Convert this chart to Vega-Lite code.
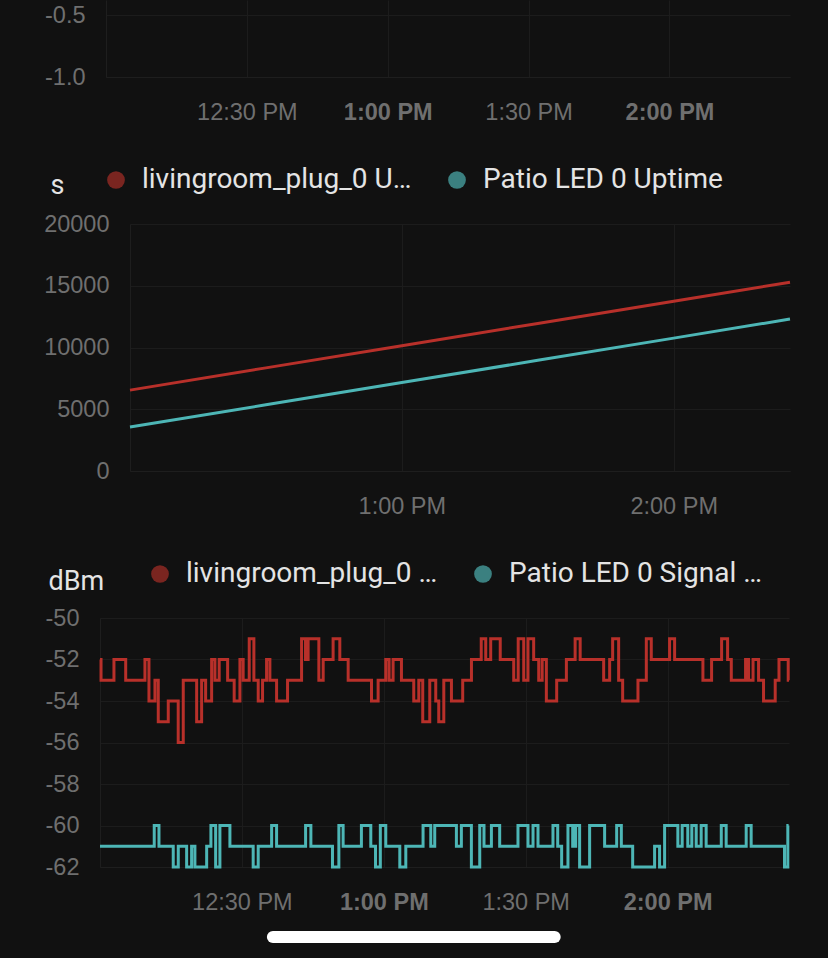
{
  "$schema": "https://vega.github.io/schema/vega-lite/v6.json",
  "background": "#111111",
  "padding": 0,
  "spacing": 42,
  "config": {
    "locale": {"number": {"decimal": ".", "thousands": ",", "grouping": [3], "currency": ["$", ""], "minus": "-"}},
    "view": {"stroke": null},
    "axis": {
      "labelFont": "Liberation Sans",
      "labelFontSize": 23.5,
      "labelColor": "#6f6f6f",
      "gridColor": "#1c1c1c",
      "domainColor": "#1e1e1e",
      "ticks": false,
      "titleFont": "Roboto",
      "titleFontSize": 27,
      "titleFontWeight": "normal",
      "titleColor": "#e4e4e4"
    },
    "axisX": {"labelPadding": 23, "labelAngle": 0, "labelFlush": false, "labelOverlap": false},
    "axisY": {"labelPadding": 21},
    "legend": {
      "labelFont": "Roboto",
      "labelFontSize": 28,
      "labelColor": "#e4e4e4",
      "padding": 0
    }
  },
  "datasets": {
    "uptime": [
      {"time": "2024-01-01T12:00:00", "series": "livingroom_plug_0 Uptime", "seconds": 6550},
      {"time": "2024-01-01T12:30:00", "series": "livingroom_plug_0 Uptime", "seconds": 8350},
      {"time": "2024-01-01T13:00:00", "series": "livingroom_plug_0 Uptime", "seconds": 10150},
      {"time": "2024-01-01T13:30:00", "series": "livingroom_plug_0 Uptime", "seconds": 11950},
      {"time": "2024-01-01T14:00:00", "series": "livingroom_plug_0 Uptime", "seconds": 13750},
      {"time": "2024-01-01T14:25:40", "series": "livingroom_plug_0 Uptime", "seconds": 15290},
      {"time": "2024-01-01T12:00:00", "series": "Patio LED 0 Uptime", "seconds": 3560},
      {"time": "2024-01-01T12:30:00", "series": "Patio LED 0 Uptime", "seconds": 5360},
      {"time": "2024-01-01T13:00:00", "series": "Patio LED 0 Uptime", "seconds": 7160},
      {"time": "2024-01-01T13:30:00", "series": "Patio LED 0 Uptime", "seconds": 8960},
      {"time": "2024-01-01T14:00:00", "series": "Patio LED 0 Uptime", "seconds": 10760},
      {"time": "2024-01-01T14:25:40", "series": "Patio LED 0 Uptime", "seconds": 12300}
    ],
    "signal": [
      {"time": "2024-01-01T12:00:00", "series": "livingroom_plug_0 Signal strength", "dbm": -52},
      {"time": "2024-01-01T12:00:13", "series": "livingroom_plug_0 Signal strength", "dbm": -53},
      {"time": "2024-01-01T12:02:57", "series": "livingroom_plug_0 Signal strength", "dbm": -52},
      {"time": "2024-01-01T12:05:26", "series": "livingroom_plug_0 Signal strength", "dbm": -53},
      {"time": "2024-01-01T12:09:30", "series": "livingroom_plug_0 Signal strength", "dbm": -52},
      {"time": "2024-01-01T12:10:21", "series": "livingroom_plug_0 Signal strength", "dbm": -54},
      {"time": "2024-01-01T12:11:37", "series": "livingroom_plug_0 Signal strength", "dbm": -53},
      {"time": "2024-01-01T12:12:19", "series": "livingroom_plug_0 Signal strength", "dbm": -55},
      {"time": "2024-01-01T12:14:26", "series": "livingroom_plug_0 Signal strength", "dbm": -54},
      {"time": "2024-01-01T12:16:32", "series": "livingroom_plug_0 Signal strength", "dbm": -56},
      {"time": "2024-01-01T12:17:36", "series": "livingroom_plug_0 Signal strength", "dbm": -53},
      {"time": "2024-01-01T12:20:26", "series": "livingroom_plug_0 Signal strength", "dbm": -55},
      {"time": "2024-01-01T12:21:29", "series": "livingroom_plug_0 Signal strength", "dbm": -53},
      {"time": "2024-01-01T12:22:20", "series": "livingroom_plug_0 Signal strength", "dbm": -54},
      {"time": "2024-01-01T12:23:36", "series": "livingroom_plug_0 Signal strength", "dbm": -52},
      {"time": "2024-01-01T12:24:18", "series": "livingroom_plug_0 Signal strength", "dbm": -53},
      {"time": "2024-01-01T12:25:12", "series": "livingroom_plug_0 Signal strength", "dbm": -52},
      {"time": "2024-01-01T12:26:59", "series": "livingroom_plug_0 Signal strength", "dbm": -53},
      {"time": "2024-01-01T12:28:22", "series": "livingroom_plug_0 Signal strength", "dbm": -54},
      {"time": "2024-01-01T12:29:35", "series": "livingroom_plug_0 Signal strength", "dbm": -52},
      {"time": "2024-01-01T12:30:16", "series": "livingroom_plug_0 Signal strength", "dbm": -53},
      {"time": "2024-01-01T12:31:33", "series": "livingroom_plug_0 Signal strength", "dbm": -51},
      {"time": "2024-01-01T12:32:32", "series": "livingroom_plug_0 Signal strength", "dbm": -53},
      {"time": "2024-01-01T12:33:27", "series": "livingroom_plug_0 Signal strength", "dbm": -54},
      {"time": "2024-01-01T12:34:22", "series": "livingroom_plug_0 Signal strength", "dbm": -53},
      {"time": "2024-01-01T12:35:13", "series": "livingroom_plug_0 Signal strength", "dbm": -52},
      {"time": "2024-01-01T12:35:55", "series": "livingroom_plug_0 Signal strength", "dbm": -53},
      {"time": "2024-01-01T12:37:20", "series": "livingroom_plug_0 Signal strength", "dbm": -54},
      {"time": "2024-01-01T12:39:39", "series": "livingroom_plug_0 Signal strength", "dbm": -53},
      {"time": "2024-01-01T12:42:37", "series": "livingroom_plug_0 Signal strength", "dbm": -51},
      {"time": "2024-01-01T12:43:27", "series": "livingroom_plug_0 Signal strength", "dbm": -52},
      {"time": "2024-01-01T12:44:00", "series": "livingroom_plug_0 Signal strength", "dbm": -51},
      {"time": "2024-01-01T12:46:16", "series": "livingroom_plug_0 Signal strength", "dbm": -53},
      {"time": "2024-01-01T12:47:11", "series": "livingroom_plug_0 Signal strength", "dbm": -52},
      {"time": "2024-01-01T12:49:17", "series": "livingroom_plug_0 Signal strength", "dbm": -51},
      {"time": "2024-01-01T12:50:42", "series": "livingroom_plug_0 Signal strength", "dbm": -52},
      {"time": "2024-01-01T12:52:28", "series": "livingroom_plug_0 Signal strength", "dbm": -53},
      {"time": "2024-01-01T12:57:24", "series": "livingroom_plug_0 Signal strength", "dbm": -54},
      {"time": "2024-01-01T12:58:48", "series": "livingroom_plug_0 Signal strength", "dbm": -53},
      {"time": "2024-01-01T13:00:25", "series": "livingroom_plug_0 Signal strength", "dbm": -52},
      {"time": "2024-01-01T13:01:07", "series": "livingroom_plug_0 Signal strength", "dbm": -53},
      {"time": "2024-01-01T13:01:58", "series": "livingroom_plug_0 Signal strength", "dbm": -52},
      {"time": "2024-01-01T13:03:44", "series": "livingroom_plug_0 Signal strength", "dbm": -53},
      {"time": "2024-01-01T13:06:20", "series": "livingroom_plug_0 Signal strength", "dbm": -54},
      {"time": "2024-01-01T13:07:24", "series": "livingroom_plug_0 Signal strength", "dbm": -53},
      {"time": "2024-01-01T13:08:14", "series": "livingroom_plug_0 Signal strength", "dbm": -55},
      {"time": "2024-01-01T13:09:43", "series": "livingroom_plug_0 Signal strength", "dbm": -53},
      {"time": "2024-01-01T13:10:59", "series": "livingroom_plug_0 Signal strength", "dbm": -54},
      {"time": "2024-01-01T13:11:37", "series": "livingroom_plug_0 Signal strength", "dbm": -55},
      {"time": "2024-01-01T13:12:41", "series": "livingroom_plug_0 Signal strength", "dbm": -53},
      {"time": "2024-01-01T13:14:18", "series": "livingroom_plug_0 Signal strength", "dbm": -54},
      {"time": "2024-01-01T13:16:41", "series": "livingroom_plug_0 Signal strength", "dbm": -53},
      {"time": "2024-01-01T13:18:32", "series": "livingroom_plug_0 Signal strength", "dbm": -52},
      {"time": "2024-01-01T13:20:36", "series": "livingroom_plug_0 Signal strength", "dbm": -51},
      {"time": "2024-01-01T13:21:33", "series": "livingroom_plug_0 Signal strength", "dbm": -52},
      {"time": "2024-01-01T13:22:36", "series": "livingroom_plug_0 Signal strength", "dbm": -51},
      {"time": "2024-01-01T13:24:37", "series": "livingroom_plug_0 Signal strength", "dbm": -52},
      {"time": "2024-01-01T13:27:28", "series": "livingroom_plug_0 Signal strength", "dbm": -53},
      {"time": "2024-01-01T13:28:25", "series": "livingroom_plug_0 Signal strength", "dbm": -51},
      {"time": "2024-01-01T13:29:35", "series": "livingroom_plug_0 Signal strength", "dbm": -53},
      {"time": "2024-01-01T13:30:29", "series": "livingroom_plug_0 Signal strength", "dbm": -51},
      {"time": "2024-01-01T13:31:41", "series": "livingroom_plug_0 Signal strength", "dbm": -52},
      {"time": "2024-01-01T13:32:45", "series": "livingroom_plug_0 Signal strength", "dbm": -53},
      {"time": "2024-01-01T13:33:29", "series": "livingroom_plug_0 Signal strength", "dbm": -52},
      {"time": "2024-01-01T13:34:22", "series": "livingroom_plug_0 Signal strength", "dbm": -54},
      {"time": "2024-01-01T13:36:33", "series": "livingroom_plug_0 Signal strength", "dbm": -53},
      {"time": "2024-01-01T13:38:36", "series": "livingroom_plug_0 Signal strength", "dbm": -52},
      {"time": "2024-01-01T13:40:27", "series": "livingroom_plug_0 Signal strength", "dbm": -51},
      {"time": "2024-01-01T13:41:31", "series": "livingroom_plug_0 Signal strength", "dbm": -52},
      {"time": "2024-01-01T13:46:29", "series": "livingroom_plug_0 Signal strength", "dbm": -53},
      {"time": "2024-01-01T13:47:45", "series": "livingroom_plug_0 Signal strength", "dbm": -52},
      {"time": "2024-01-01T13:48:23", "series": "livingroom_plug_0 Signal strength", "dbm": -51},
      {"time": "2024-01-01T13:49:39", "series": "livingroom_plug_0 Signal strength", "dbm": -53},
      {"time": "2024-01-01T13:50:30", "series": "livingroom_plug_0 Signal strength", "dbm": -54},
      {"time": "2024-01-01T13:53:44", "series": "livingroom_plug_0 Signal strength", "dbm": -53},
      {"time": "2024-01-01T13:55:30", "series": "livingroom_plug_0 Signal strength", "dbm": -51},
      {"time": "2024-01-01T13:56:33", "series": "livingroom_plug_0 Signal strength", "dbm": -52},
      {"time": "2024-01-01T14:00:25", "series": "livingroom_plug_0 Signal strength", "dbm": -51},
      {"time": "2024-01-01T14:01:29", "series": "livingroom_plug_0 Signal strength", "dbm": -52},
      {"time": "2024-01-01T14:07:28", "series": "livingroom_plug_0 Signal strength", "dbm": -53},
      {"time": "2024-01-01T14:09:18", "series": "livingroom_plug_0 Signal strength", "dbm": -52},
      {"time": "2024-01-01T14:11:25", "series": "livingroom_plug_0 Signal strength", "dbm": -51},
      {"time": "2024-01-01T14:12:41", "series": "livingroom_plug_0 Signal strength", "dbm": -52},
      {"time": "2024-01-01T14:13:28", "series": "livingroom_plug_0 Signal strength", "dbm": -53},
      {"time": "2024-01-01T14:16:29", "series": "livingroom_plug_0 Signal strength", "dbm": -52},
      {"time": "2024-01-01T14:17:07", "series": "livingroom_plug_0 Signal strength", "dbm": -53},
      {"time": "2024-01-01T14:18:04", "series": "livingroom_plug_0 Signal strength", "dbm": -52},
      {"time": "2024-01-01T14:19:14", "series": "livingroom_plug_0 Signal strength", "dbm": -53},
      {"time": "2024-01-01T14:20:17", "series": "livingroom_plug_0 Signal strength", "dbm": -54},
      {"time": "2024-01-01T14:22:45", "series": "livingroom_plug_0 Signal strength", "dbm": -53},
      {"time": "2024-01-01T14:23:33", "series": "livingroom_plug_0 Signal strength", "dbm": -52},
      {"time": "2024-01-01T14:25:30", "series": "livingroom_plug_0 Signal strength", "dbm": -53},
      {"time": "2024-01-01T14:25:40", "series": "livingroom_plug_0 Signal strength", "dbm": -53},
      {"time": "2024-01-01T12:00:00", "series": "Patio LED 0 Signal strength", "dbm": -61},
      {"time": "2024-01-01T12:11:28", "series": "Patio LED 0 Signal strength", "dbm": -60},
      {"time": "2024-01-01T12:12:28", "series": "Patio LED 0 Signal strength", "dbm": -61},
      {"time": "2024-01-01T12:15:29", "series": "Patio LED 0 Signal strength", "dbm": -62},
      {"time": "2024-01-01T12:16:33", "series": "Patio LED 0 Signal strength", "dbm": -61},
      {"time": "2024-01-01T12:18:19", "series": "Patio LED 0 Signal strength", "dbm": -62},
      {"time": "2024-01-01T12:19:22", "series": "Patio LED 0 Signal strength", "dbm": -61},
      {"time": "2024-01-01T12:20:04", "series": "Patio LED 0 Signal strength", "dbm": -62},
      {"time": "2024-01-01T12:22:33", "series": "Patio LED 0 Signal strength", "dbm": -61},
      {"time": "2024-01-01T12:23:27", "series": "Patio LED 0 Signal strength", "dbm": -60},
      {"time": "2024-01-01T12:24:27", "series": "Patio LED 0 Signal strength", "dbm": -62},
      {"time": "2024-01-01T12:25:21", "series": "Patio LED 0 Signal strength", "dbm": -60},
      {"time": "2024-01-01T12:27:28", "series": "Patio LED 0 Signal strength", "dbm": -61},
      {"time": "2024-01-01T12:32:23", "series": "Patio LED 0 Signal strength", "dbm": -62},
      {"time": "2024-01-01T12:33:27", "series": "Patio LED 0 Signal strength", "dbm": -61},
      {"time": "2024-01-01T12:36:17", "series": "Patio LED 0 Signal strength", "dbm": -60},
      {"time": "2024-01-01T12:37:20", "series": "Patio LED 0 Signal strength", "dbm": -61},
      {"time": "2024-01-01T12:43:28", "series": "Patio LED 0 Signal strength", "dbm": -60},
      {"time": "2024-01-01T12:44:35", "series": "Patio LED 0 Signal strength", "dbm": -61},
      {"time": "2024-01-01T12:49:09", "series": "Patio LED 0 Signal strength", "dbm": -62},
      {"time": "2024-01-01T12:50:30", "series": "Patio LED 0 Signal strength", "dbm": -60},
      {"time": "2024-01-01T12:51:24", "series": "Patio LED 0 Signal strength", "dbm": -61},
      {"time": "2024-01-01T12:55:16", "series": "Patio LED 0 Signal strength", "dbm": -60},
      {"time": "2024-01-01T12:57:15", "series": "Patio LED 0 Signal strength", "dbm": -61},
      {"time": "2024-01-01T12:58:15", "series": "Patio LED 0 Signal strength", "dbm": -62},
      {"time": "2024-01-01T12:59:16", "series": "Patio LED 0 Signal strength", "dbm": -60},
      {"time": "2024-01-01T13:00:25", "series": "Patio LED 0 Signal strength", "dbm": -61},
      {"time": "2024-01-01T13:03:23", "series": "Patio LED 0 Signal strength", "dbm": -62},
      {"time": "2024-01-01T13:04:39", "series": "Patio LED 0 Signal strength", "dbm": -61},
      {"time": "2024-01-01T13:08:18", "series": "Patio LED 0 Signal strength", "dbm": -60},
      {"time": "2024-01-01T13:09:56", "series": "Patio LED 0 Signal strength", "dbm": -61},
      {"time": "2024-01-01T13:10:46", "series": "Patio LED 0 Signal strength", "dbm": -60},
      {"time": "2024-01-01T13:15:21", "series": "Patio LED 0 Signal strength", "dbm": -61},
      {"time": "2024-01-01T13:16:24", "series": "Patio LED 0 Signal strength", "dbm": -60},
      {"time": "2024-01-01T13:18:31", "series": "Patio LED 0 Signal strength", "dbm": -62},
      {"time": "2024-01-01T13:20:17", "series": "Patio LED 0 Signal strength", "dbm": -60},
      {"time": "2024-01-01T13:21:11", "series": "Patio LED 0 Signal strength", "dbm": -61},
      {"time": "2024-01-01T13:22:45", "series": "Patio LED 0 Signal strength", "dbm": -60},
      {"time": "2024-01-01T13:24:30", "series": "Patio LED 0 Signal strength", "dbm": -61},
      {"time": "2024-01-01T13:28:22", "series": "Patio LED 0 Signal strength", "dbm": -60},
      {"time": "2024-01-01T13:30:29", "series": "Patio LED 0 Signal strength", "dbm": -61},
      {"time": "2024-01-01T13:31:33", "series": "Patio LED 0 Signal strength", "dbm": -60},
      {"time": "2024-01-01T13:32:36", "series": "Patio LED 0 Signal strength", "dbm": -61},
      {"time": "2024-01-01T13:35:46", "series": "Patio LED 0 Signal strength", "dbm": -60},
      {"time": "2024-01-01T13:36:46", "series": "Patio LED 0 Signal strength", "dbm": -61},
      {"time": "2024-01-01T13:37:36", "series": "Patio LED 0 Signal strength", "dbm": -62},
      {"time": "2024-01-01T13:38:56", "series": "Patio LED 0 Signal strength", "dbm": -60},
      {"time": "2024-01-01T13:39:56", "series": "Patio LED 0 Signal strength", "dbm": -61},
      {"time": "2024-01-01T13:40:34", "series": "Patio LED 0 Signal strength", "dbm": -60},
      {"time": "2024-01-01T13:41:24", "series": "Patio LED 0 Signal strength", "dbm": -62},
      {"time": "2024-01-01T13:43:31", "series": "Patio LED 0 Signal strength", "dbm": -60},
      {"time": "2024-01-01T13:46:41", "series": "Patio LED 0 Signal strength", "dbm": -61},
      {"time": "2024-01-01T13:49:14", "series": "Patio LED 0 Signal strength", "dbm": -60},
      {"time": "2024-01-01T13:50:13", "series": "Patio LED 0 Signal strength", "dbm": -61},
      {"time": "2024-01-01T13:52:37", "series": "Patio LED 0 Signal strength", "dbm": -62},
      {"time": "2024-01-01T13:57:15", "series": "Patio LED 0 Signal strength", "dbm": -61},
      {"time": "2024-01-01T13:58:18", "series": "Patio LED 0 Signal strength", "dbm": -62},
      {"time": "2024-01-01T13:59:22", "series": "Patio LED 0 Signal strength", "dbm": -60},
      {"time": "2024-01-01T14:02:10", "series": "Patio LED 0 Signal strength", "dbm": -61},
      {"time": "2024-01-01T14:03:05", "series": "Patio LED 0 Signal strength", "dbm": -60},
      {"time": "2024-01-01T14:04:16", "series": "Patio LED 0 Signal strength", "dbm": -61},
      {"time": "2024-01-01T14:05:07", "series": "Patio LED 0 Signal strength", "dbm": -60},
      {"time": "2024-01-01T14:06:03", "series": "Patio LED 0 Signal strength", "dbm": -61},
      {"time": "2024-01-01T14:07:06", "series": "Patio LED 0 Signal strength", "dbm": -60},
      {"time": "2024-01-01T14:08:09", "series": "Patio LED 0 Signal strength", "dbm": -61},
      {"time": "2024-01-01T14:11:21", "series": "Patio LED 0 Signal strength", "dbm": -60},
      {"time": "2024-01-01T14:12:23", "series": "Patio LED 0 Signal strength", "dbm": -61},
      {"time": "2024-01-01T14:16:37", "series": "Patio LED 0 Signal strength", "dbm": -60},
      {"time": "2024-01-01T14:17:40", "series": "Patio LED 0 Signal strength", "dbm": -61},
      {"time": "2024-01-01T14:24:43", "series": "Patio LED 0 Signal strength", "dbm": -62},
      {"time": "2024-01-01T14:25:25", "series": "Patio LED 0 Signal strength", "dbm": -60},
      {"time": "2024-01-01T14:25:35", "series": "Patio LED 0 Signal strength", "dbm": -60}
    ]
  },
  "resolve": {"scale": {"color": "independent"}},
  "vconcat": [
    {
      "spacing": 0,
      "hconcat": [
        {"width": 1, "height": 1, "data": {"values": [{}]}, "mark": {"type": "rect", "opacity": 0}},
        {
          "width": 684,
          "height": 77,
          "data": {"values": []},
          "mark": {"type": "line"},
          "encoding": {
            "x": {
              "field": "time",
              "type": "temporal",
              "scale": {"domain": [
                {"year": 2024, "month": 1, "date": 1, "hours": 12, "minutes": 0},
                {"year": 2024, "month": 1, "date": 1, "hours": 14, "minutes": 25, "seconds": 40}
              ]},
              "axis": {
                "title": null,
                "format": "%-I:%M %p",
                "values": [
                  {"year": 2024, "month": 1, "date": 1, "hours": 12, "minutes": 30},
                  {"year": 2024, "month": 1, "date": 1, "hours": 13, "minutes": 0},
                  {"year": 2024, "month": 1, "date": 1, "hours": 13, "minutes": 30},
                  {"year": 2024, "month": 1, "date": 1, "hours": 14, "minutes": 0}
                ],
                "labelFontWeight": {"condition": {"test": "minutes(datum.value) === 0", "value": "bold"}, "value": "normal"}
              }
            },
            "y": {
              "field": "value",
              "type": "quantitative",
              "scale": {"domain": [-1, -0.379], "nice": false, "zero": false},
              "axis": {"title": null, "values": [-1, -0.5], "format": ".1f", "minExtent": 105, "maxExtent": 105}
            }
          }
        }
      ]
    },
    {
      "spacing": 0,
      "hconcat": [
        {"width": 1, "height": 1, "data": {"values": [{}]}, "mark": {"type": "rect", "opacity": 0}},
        {
          "width": 660,
          "height": 247,
          "data": {"name": "uptime"},
          "mark": {"type": "line", "strokeWidth": 3},
          "encoding": {
            "x": {
              "field": "time",
              "type": "temporal",
              "scale": {"domain": [
                {"year": 2024, "month": 1, "date": 1, "hours": 12, "minutes": 0},
                {"year": 2024, "month": 1, "date": 1, "hours": 14, "minutes": 25, "seconds": 40}
              ]},
              "axis": {
                "title": null,
                "format": "%-I:%M %p",
                "values": [
                  {"year": 2024, "month": 1, "date": 1, "hours": 13, "minutes": 0},
                  {"year": 2024, "month": 1, "date": 1, "hours": 14, "minutes": 0}
                ]
              }
            },
            "y": {
              "field": "seconds",
              "type": "quantitative",
              "scale": {"domain": [0, 20000], "nice": false},
              "axis": {
                "title": "s",
                "titleAngle": 0,
                "titleAlign": "left",
                "titleBaseline": "alphabetic",
                "titleX": -80,
                "titleY": -31,
                "values": [0, 5000, 10000, 15000, 20000],
                "format": "d",
                "minExtent": 129,
                "maxExtent": 129
              }
            },
            "color": {
              "field": "series",
              "type": "nominal",
              "sort": null,
              "scale": {"domain": ["livingroom_plug_0 Uptime", "Patio LED 0 Uptime"], "range": ["#b8302a", "#4db6b6"]},
              "legend": {
                "title": null,
                "orient": "none",
                "direction": "horizontal",
                "legendX": 102,
                "legendY": -58,
                "symbolType": "circle",
                "symbolSize": 314,
                "labelOffset": 12,
                "columnPadding": 31,
                "labelLimit": 276,
                "encode": {
                  "symbols": {
                    "update": {
                      "fill": {"signal": "datum.value === 'Patio LED 0 Uptime' ? '#3b8080' : '#7a2520'"},
                      "fillOpacity": {"value": 1},
                      "stroke": {"value": "transparent"},
                      "strokeWidth": {"value": 0}
                    }
                  }
                }
              }
            }
          }
        }
      ]
    },
    {
      "spacing": 0,
      "hconcat": [
        {"width": 1, "height": 1, "data": {"values": [{}]}, "mark": {"type": "rect", "opacity": 0}},
        {
          "width": 689,
          "height": 249,
          "layer": [
            {
              "data": {"name": "signal"},
              "mark": {"type": "line", "interpolate": "step-after", "strokeWidth": 3, "strokeJoin": "miter"},
              "encoding": {
                "x": {
                  "field": "time",
                  "type": "temporal",
                  "scale": {"domain": [
                    {"year": 2024, "month": 1, "date": 1, "hours": 12, "minutes": 0},
                    {"year": 2024, "month": 1, "date": 1, "hours": 14, "minutes": 25, "seconds": 40}
                  ]},
                  "axis": {
                    "title": null,
                    "format": "%-I:%M %p",
                    "values": [
                      {"year": 2024, "month": 1, "date": 1, "hours": 12, "minutes": 30},
                      {"year": 2024, "month": 1, "date": 1, "hours": 13, "minutes": 0},
                      {"year": 2024, "month": 1, "date": 1, "hours": 13, "minutes": 30},
                      {"year": 2024, "month": 1, "date": 1, "hours": 14, "minutes": 0}
                    ],
                    "labelFontWeight": {"condition": {"test": "minutes(datum.value) === 0", "value": "bold"}, "value": "normal"}
                  }
                },
                "y": {
                  "field": "dbm",
                  "type": "quantitative",
                  "scale": {"domain": [-62, -50], "nice": false, "zero": false},
                  "axis": {
                    "title": "dBm",
                    "titleAngle": 0,
                    "titleAlign": "left",
                    "titleBaseline": "alphabetic",
                    "titleX": -52,
                    "titleY": -29,
                    "values": [-50, -52, -54, -56, -58, -60, -62],
                    "format": "d",
                    "minExtent": 99,
                    "maxExtent": 99
                  }
                },
                "color": {
                  "field": "series",
                  "type": "nominal",
                  "sort": null,
                  "scale": {"domain": ["livingroom_plug_0 Signal strength", "Patio LED 0 Signal strength"], "range": ["#b8302a", "#4db6b6"]},
                  "legend": {
                    "title": null,
                    "orient": "none",
                    "direction": "horizontal",
                    "legendX": 146,
                    "legendY": -58,
                    "symbolType": "circle",
                    "symbolSize": 314,
                    "labelOffset": 12,
                    "columnPadding": 31,
                    "labelLimit": 258,
                    "encode": {
                      "symbols": {
                        "update": {
                          "fill": {"signal": "datum.value === 'Patio LED 0 Signal strength' ? '#3b8080' : '#7a2520'"},
                          "fillOpacity": {"value": 1},
                          "stroke": {"value": "transparent"},
                          "strokeWidth": {"value": 0}
                        }
                      }
                    }
                  }
                }
              }
            },
            {
              "data": {"values": [{}]},
              "mark": {"type": "rule", "strokeWidth": 12, "strokeCap": "round", "color": "#ffffff"},
              "encoding": {
                "x": {"datum": {"year": 2024, "month": 1, "date": 1, "hours": 12, "minutes": 36, "seconds": 33}, "type": "temporal"},
                "x2": {"datum": {"year": 2024, "month": 1, "date": 1, "hours": 13, "minutes": 36, "seconds": 8}},
                "y": {"datum": -65.37, "type": "quantitative"}
              }
            }
          ]
        },
        {"width": 40, "height": 340, "data": {"values": [{}]}, "mark": {"type": "rect", "opacity": 0}}
      ]
    }
  ]
}
